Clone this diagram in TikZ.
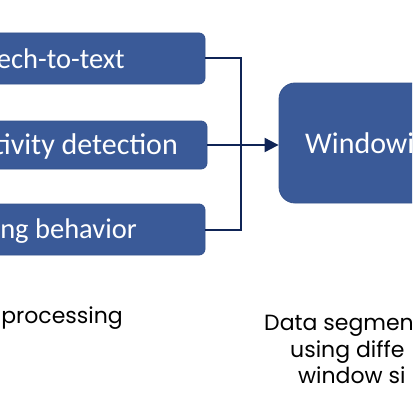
\documentclass[tikz,border=0pt]{standalone}
\usepackage{fontspec}
\setmainfont{Carlito}
\newfontfamily\capfont{Poppins}
\usetikzlibrary{arrows.meta}
\definecolor{boxblue}{HTML}{3A5A98}
\definecolor{boxedge}{HTML}{34528C}
\definecolor{linenavy}{HTML}{0F2456}
\tikzset{
  leftbox/.style={draw=boxedge, fill=boxblue, line width=0.8pt, rounded corners=6pt, inner sep=0pt},
  bigbox/.style={draw=boxedge, fill=boxblue, line width=0.8pt, rounded corners=16pt, inner sep=0pt},
  boxtext/.style={text=white, inner sep=0pt, font=\fontsize{28.5}{33}\selectfont},
  bigtext/.style={text=white, inner sep=0pt, font=\fontsize{30}{35}\selectfont},
  captext/.style={text=black, inner sep=0pt, font=\capfont\fontsize{22}{27}\selectfont},
  conn/.style={draw=linenavy, line width=2pt},
}
\begin{document}
\begin{tikzpicture}[x=1pt,y=-1pt]
\useasboundingbox (0,0) rectangle (412,412);
\clip (0,0) rectangle (412,412);
\fill[white] (0,0) rectangle (412,412);
% boxes
\node[leftbox, minimum width=230pt, minimum height=51pt] (b1) at (90,58.5) {};
\node[leftbox, minimum width=230pt, minimum height=48pt] (b2) at (92,145) {};
\node[leftbox, minimum width=230pt, minimum height=51pt] (b3) at (90,229.5) {};
\node[bigbox, minimum width=240pt, minimum height=120pt] (win) at (399,143) {};
% box texts
\node[boxtext, anchor=base east] (t1) at (125,69) {ech-to-text};
\node[boxtext, anchor=base east, font=\fontsize{30}{35}\selectfont] (t2) at (178,154) {tivity detection};
\node[boxtext, anchor=base east] (t3) at (137,238) {ng behavior};
\node[bigtext, anchor=base west] (tw) at (305,153) {Windowi};
% captions
\node[captext, anchor=base east] (c1) at (123,323) {processing};
\node[captext, anchor=base west] (c2) at (264,330) {Data segmen};
\node[captext, anchor=base west] (c3) at (290,357) {using diffe};
\node[captext, anchor=base west] (c4) at (298,383) {window si};
% connectors
\coordinate (j) at (241,145);
\draw[conn] (b1.east) -| (j) |- (b3.east);
\draw[conn, -{Triangle[length=14pt,width=14pt]}] (b2.east) -- (b2.east -| win.west);
\end{tikzpicture}
\end{document}
